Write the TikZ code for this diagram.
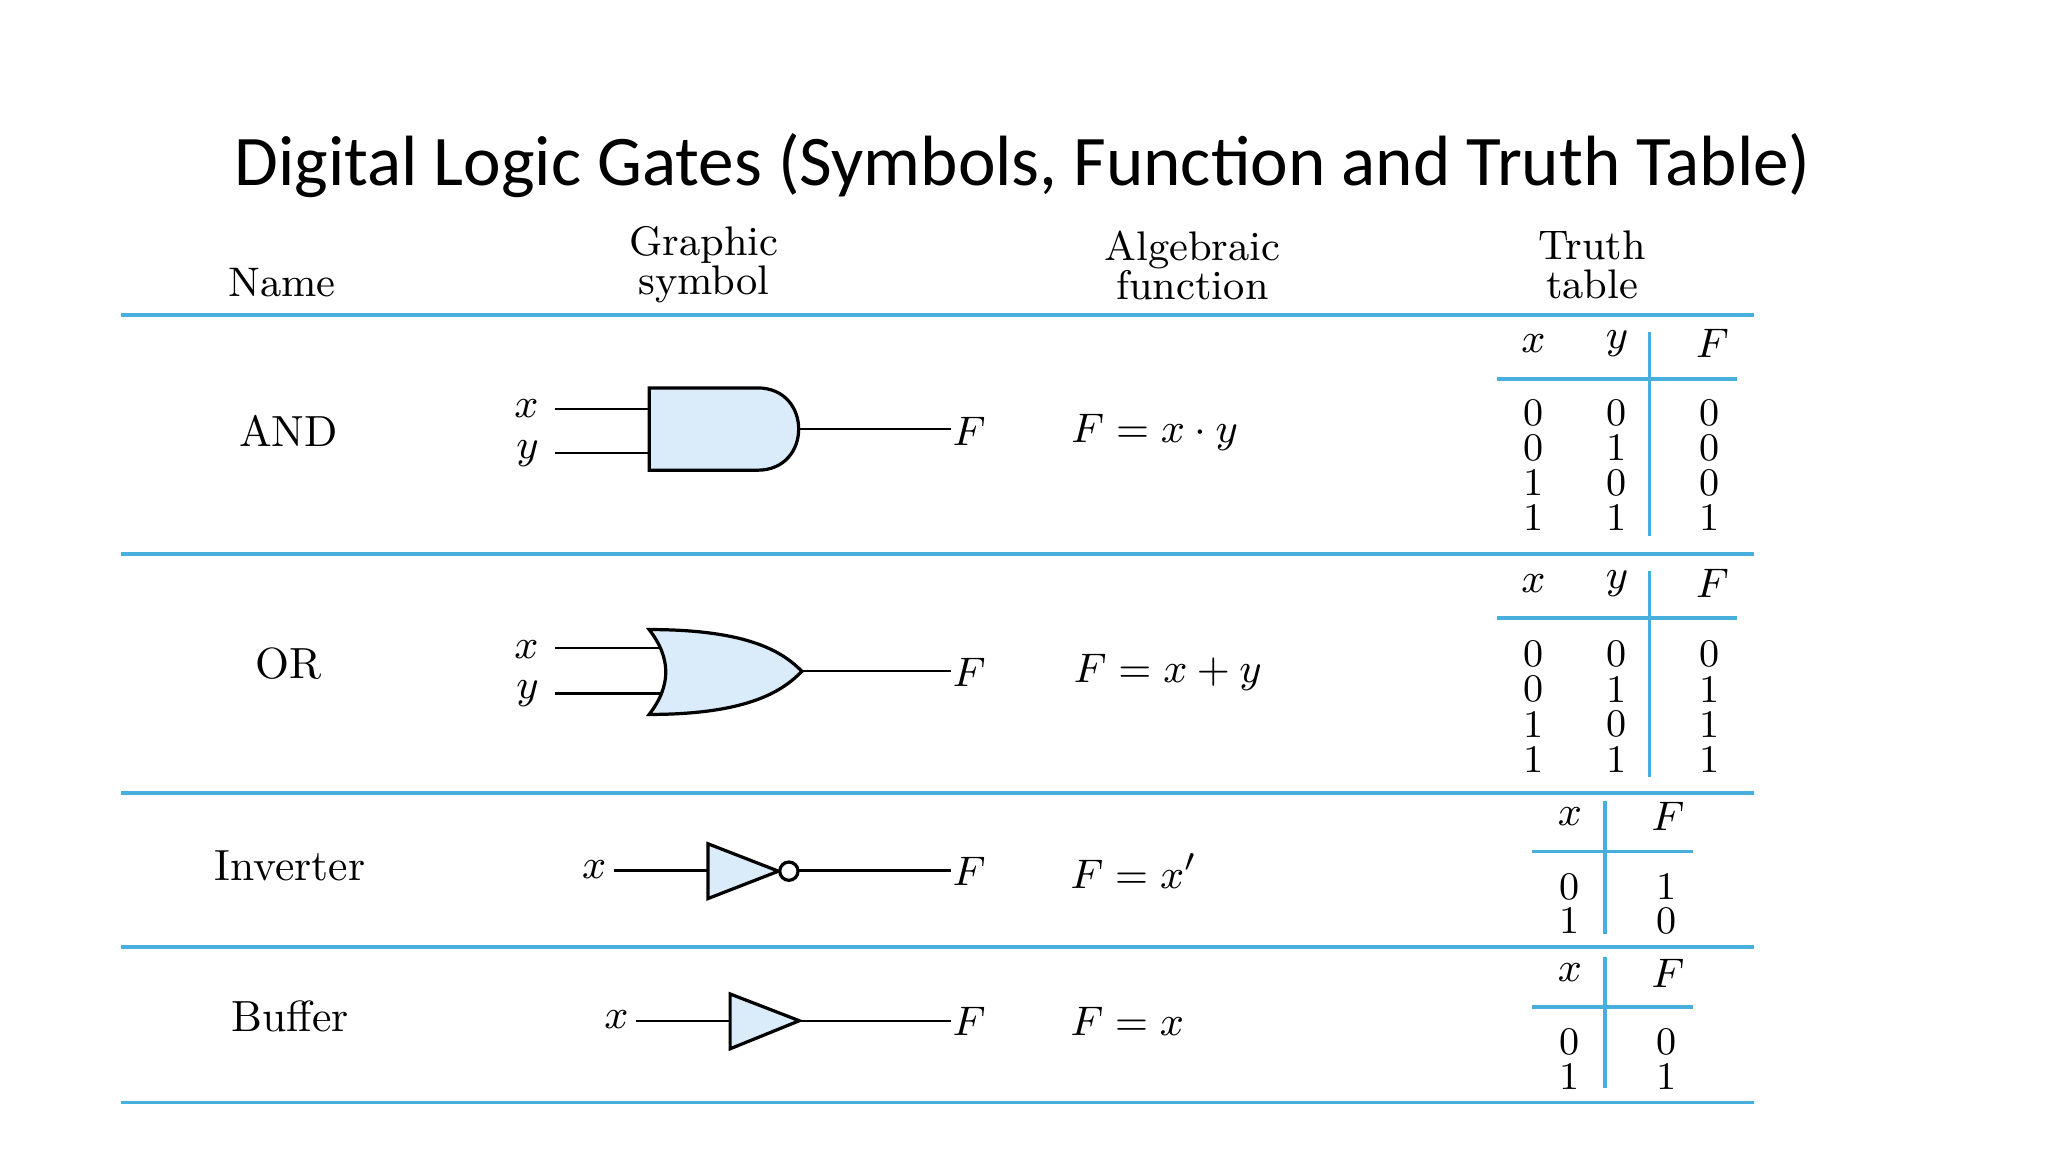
\documentclass[tikz,border=0pt]{standalone}
\usepackage{fontspec}
\newfontfamily\titlefont{Carlito}
\definecolor{rule}{RGB}{70,175,220}
\definecolor{gatefill}{RGB}{218,235,250}
\begin{document}
\begin{tikzpicture}[x=0.01cm,y=-0.01cm,
  txt/.style={inner sep=0pt,font=\fontsize{9.5}{11}\selectfont},
  dig/.style={inner sep=0pt,font=\fontsize{8.5}{9}\selectfont},
  hdr/.style={inner sep=0pt,font=\fontsize{9}{9.5}\selectfont,align=center},
  wire/.style={line width=0.5pt},
  gate/.style={line width=0.7pt,fill=gatefill},
  tl/.style={draw=rule,line width=0.8pt}]
\useasboundingbox (0,0) rectangle (1568,882);
\node[inner sep=0pt,font=\titlefont\fontsize{15.5}{18}\selectfont] (title) at (783,127) {Digital Logic Gates (Symbols, Function and Truth Table)};
% headers
\node[hdr] (hn) at (216,216) {Name};
\node[hdr] (hg) at (539,203) {Graphic\\[-1pt]symbol};
\node[hdr] (ha) at (913,203) {Algebraic\\[-1pt]function};
\node[hdr] (ht) at (1219,203) {Truth\\[-1pt]table};
% rules
\foreach \yy/\n in {241/a,424/b,607/c,725/d,844/e}{
  \coordinate (l\n1) at (93,\yy); \coordinate (l\n2) at (1343,\yy);
  \draw[tl] (l\n1) -- (l\n2);}
% names
\node[txt] (nand) at (221,330) {AND};
\node[txt] (nor) at (221,508) {OR};
\node[txt] (ninv) at (222,663) {Inverter};
\node[txt] (nbuf) at (222,778) {Buffer};
% AND gate
\draw[gate] (497,297) -- (580,297) .. controls (622,297) and (622,360) .. (580,360) -- (497,360) -- cycle;
\coordinate (ax) at (425,313); \coordinate (axe) at (497,313);
\coordinate (ay) at (425,347); \coordinate (aye) at (497,347);
\coordinate (ao) at (612,328.5); \coordinate (aoe) at (728,328.5);
\draw[wire] (ax) -- (axe); \draw[wire] (ay) -- (aye); \draw[wire] (ao) -- (aoe);
\node[txt] at (403,313) {$x$}; \node[txt] at (404,347) {$y$};
\node[txt] at (742,330) {$F$};
\node[txt] at (884,331) {$F = x \cdot y$};
% OR gate
\draw[gate] (497,482) .. controls (575,482) and (600,500) .. (614,514)
  .. controls (600,528) and (575,547) .. (497,547)
  .. controls (514,525) and (514,504) .. (497,482) -- cycle;
\coordinate (ox) at (425,496); \coordinate (oxe) at (506,496);
\coordinate (oy) at (425,531); \coordinate (oye) at (506,531);
\coordinate (oo) at (614,514); \coordinate (ooe) at (728,514);
\draw[wire] (ox) -- (oxe); \draw[wire] (oy) -- (oye); \draw[wire] (oo) -- (ooe);
\node[txt] at (403,497) {$x$}; \node[txt] at (404,531) {$y$};
\node[txt] at (742,515) {$F$};
\node[txt] at (894,515) {$F = x + y$};
% Inverter
\draw[gate] (542,646) -- (596,667) -- (542,688) -- cycle;
\draw[gate,fill=white] (604,667) circle (7);
\coordinate (ix) at (470,666.5); \coordinate (ixe) at (542,666.5);
\coordinate (io) at (611,666.5); \coordinate (ioe) at (728,666.5);
\draw[wire] (ix) -- (ixe); \draw[wire] (io) -- (ioe);
\node[txt] at (455,666) {$x$}; \node[txt] at (742,667) {$F$};
\node[txt] at (868,667) {$F = x'$};
% Buffer
\draw[gate] (559,761) -- (612,781.5) -- (559,803) -- cycle;
\coordinate (bx) at (487,781.5); \coordinate (bxe) at (559,781.5);
\coordinate (bo) at (612,781.5); \coordinate (boe) at (728,781.5);
\draw[wire] (bx) -- (bxe); \draw[wire] (bo) -- (boe);
\node[txt] at (472,781) {$x$}; \node[txt] at (742,782) {$F$};
\node[txt] at (863,782) {$F = x$};
% truth tables 2-input
\foreach \top/\hl/\vt/\vb/\ra/\fa/\fb/\fc/\fd in {263/290/254/410/316/0/0/0/1, 447/473/437/595/501/0/1/1/1}{
  \node[txt] at (1174,\top) {$x$}; \node[txt] at (1238,\top) {$y$}; \node[txt] at (1311,\top) {$F$};
  \draw[tl] (1146,\hl) -- (1330,\hl); \draw[tl] (1263,\vt) -- (1263,\vb);
  \foreach \i/\xv/\yv/\fv in {0/0/0/\fa,1/0/1/\fb,2/1/0/\fc,3/1/1/\fd}{
    \node[dig] at (1174,\ra+26.8*\i) {\xv};
    \node[dig] at (1238,\ra+26.8*\i) {\yv};
    \node[dig] at (1309,\ra+26.8*\i) {\fv};}}
% truth tables 1-input
\foreach \top/\hl/\vt/\vb/\ra/\fa/\fb in {625/652/613/715/679/1/0, 745/771/733/833/798/0/1}{
  \node[txt] at (1202,\top) {$x$}; \node[txt] at (1277,\top) {$F$};
  \draw[tl] (1173,\hl) -- (1296,\hl); \draw[tl] (1229,\vt) -- (1229,\vb);
  \node[dig] at (1202,\ra) {0}; \node[dig] at (1202,\ra+26) {1};
  \node[dig] at (1276,\ra) {\fa}; \node[dig] at (1276,\ra+26) {\fb};}
\end{tikzpicture}
\end{document}
